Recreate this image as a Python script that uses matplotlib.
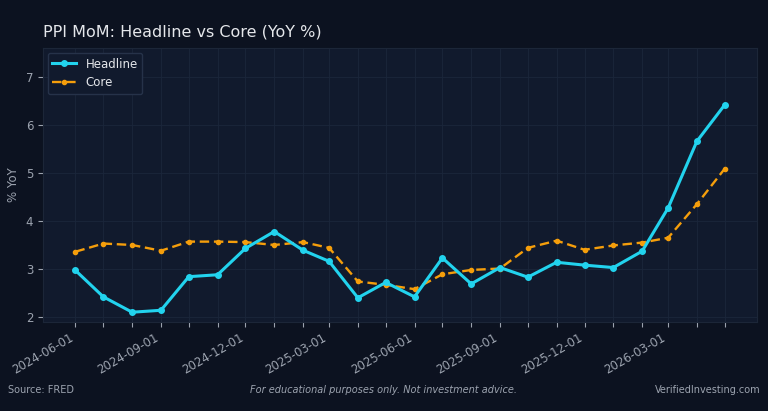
import matplotlib
matplotlib.use("Agg")
import matplotlib.pyplot as plt
import pandas as pd

# monthly observations
dates = pd.date_range("2024-06-01", "2026-05-01", freq="MS")
headline = [2.97, 2.42, 2.10, 2.14, 2.84, 2.88, 3.43, 3.78, 3.39, 3.16, 2.40, 2.72,
            2.42, 3.23, 2.69, 3.03, 2.83, 3.14, 3.08, 3.03, 3.37, 4.27, 5.66, 6.42]
core = [3.36, 3.53, 3.50, 3.38, 3.57, 3.57, 3.56, 3.50, 3.56, 3.44, 2.74, 2.67,
        2.58, 2.89, 2.98, 3.01, 3.44, 3.59, 3.40, 3.49, 3.55, 3.65, 4.35, 5.09]

fig_bg = "#0c1220"
ax_bg = "#111a2d"
txt = "#e5e7eb"
tick_c = "#9ca3af"

fig = plt.figure(figsize=(7.68, 4.11), dpi=100, facecolor=fig_bg)
ax = fig.add_axes([0.056, 0.217, 0.930, 0.666])
ax.set_facecolor(ax_bg)

ax.plot(dates, headline, color="#22d3ee", lw=2.2, marker="o", ms=4, label="Headline", zorder=3)
ax.plot(dates, core, color="#f59e0b", lw=1.7, ls="--", dashes=(4, 2), marker="o", ms=3,
        label="Core", zorder=2)

ax.set_ylim(1.9, 7.6)
ax.set_yticks([2, 3, 4, 5, 6, 7])
ax.set_xticks(dates)
ax.set_xticklabels([d.strftime("%Y-%m-%d") if i % 3 == 0 else "" for i, d in enumerate(dates)],
                   rotation=30, ha="right")
ax.tick_params(colors=tick_c, labelsize=8.5)
ax.grid(True, color="#1b263b", lw=0.6)
for s in ax.spines.values():
    s.set_color("#1c2638")

ax.set_ylabel("% YoY", color=tick_c, fontsize=8.5)
fig.text(0.056, 0.922, "PPI MoM: Headline vs Core (YoY %)", color=txt, fontsize=11.5, ha="left", va="center")

leg = ax.legend(loc="upper left", facecolor=ax_bg, edgecolor="#263249", fontsize=8.5,
                labelcolor=txt, framealpha=1, borderaxespad=0.4)

fig.text(0.01, 0.051, "Source: FRED", color=tick_c, fontsize=7, ha="left", va="center")
fig.text(0.5, 0.051, "For educational purposes only. Not investment advice.", color=tick_c,
         fontsize=7, ha="center", va="center", style="italic")
fig.text(0.99, 0.051, "VerifiedInvesting.com", color=tick_c, fontsize=7, ha="right", va="center")

fig.savefig("out.png", dpi=100, facecolor=fig_bg)
plt.close(fig)
